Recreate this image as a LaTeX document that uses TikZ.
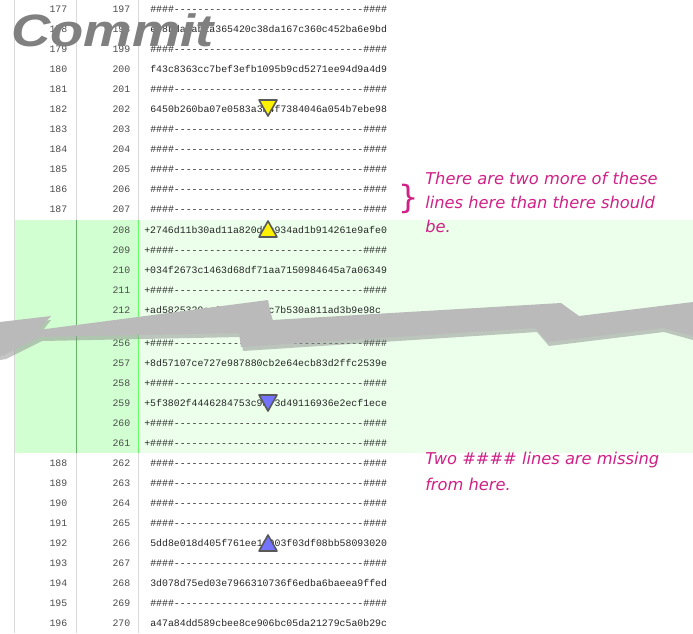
\documentclass[tikz,border=0pt]{standalone}
\usepackage{fontspec}
\setmonofont{Liberation Mono}
\newfontfamily\annfont{DejaVu Sans}
\newfontfamily\bigfont{Liberation Sans}
\begin{document}
\begin{tikzpicture}[x=0.75pt,y=-0.75pt,
  num/.style={anchor=east,font=\ttfamily\fontsize{7.4}{8}\selectfont,text=black!70},
  code/.style={anchor=west,font=\ttfamily\fontsize{7.4}{8}\selectfont,text=black!85,inner sep=0},
  ann/.style={anchor=west,font=\annfont\itshape\fontsize{12.2}{13}\selectfont,text=magenta!85!black,inner sep=0},
  tri/.style={draw=black!65,line width=1.2pt,line join=round}]
\useasboundingbox (0,0) rectangle (693,633);
\fill[white] (0,0) rectangle (693,633);
\fill[green!8] (14,220) rectangle (693,453);
\fill[green!18] (14,220) rectangle (138,453);
\draw[black!15] (14,0) -- (14,633) (76,0) -- (76,220) (76,453) -- (76,633) (138,0) -- (138,220) (138,453) -- (138,633);
\draw[green!50!black!60] (76,220) -- (76,453);
\draw[green!60] (138,220) -- (138,453);
% old rows
\foreach \a/\b/\t [count=\i from 0] in {
177/197/{\#\#\#\#--------------------------------\#\#\#\#},
178/198/{e58bda4ab2a365420c38da167c360c452ba6e9bd},
179/199/{\#\#\#\#--------------------------------\#\#\#\#},
180/200/{f43c8363cc7bef3efb1095b9cd5271ee94d9a4d9},
181/201/{\#\#\#\#--------------------------------\#\#\#\#},
182/202/{6450b260ba07e0583a3b4f7384046a054b7ebe98},
183/203/{\#\#\#\#--------------------------------\#\#\#\#},
184/204/{\#\#\#\#--------------------------------\#\#\#\#},
185/205/{\#\#\#\#--------------------------------\#\#\#\#},
186/206/{\#\#\#\#--------------------------------\#\#\#\#},
187/207/{\#\#\#\#--------------------------------\#\#\#\#}}{
  \node[num] (l\a) at (72,9+20*\i) {\a};
  \node[num] (r\b) at (135,9+20*\i) {\b};
  \node[code] (c\b) at (150,9+20*\i) {\t};
}
% added rows
\foreach \b/\y/\t in {
208/230/{+2746d11b30ad11a820d5c934ad1b914261e9afe0},
209/250/{+\#\#\#\#--------------------------------\#\#\#\#},
210/270/{+034f2673c1463d68df71aa7150984645a7a06349},
211/290/{+\#\#\#\#--------------------------------\#\#\#\#},
212/310/{+ad5825329ec9eee6410fc7b530a811ad3b9e98c},
256/343/{+\#\#\#\#--------------------------------\#\#\#\#},
257/363/{+8d57107ce727e987880cb2e64ecb83d2ffc2539e},
258/383/{+\#\#\#\#--------------------------------\#\#\#\#},
259/403/{+5f3802f4446284753c9a73d49116936e2ecf1ece},
260/423/{+\#\#\#\#--------------------------------\#\#\#\#},
261/443/{+\#\#\#\#--------------------------------\#\#\#\#}}{
  \node[num] (r\b) at (135,\y) {\b};
  \node[code] (c\b) at (144,\y) {\t};
}
\foreach \a/\b/\t [count=\i from 0] in {
188/262/{\#\#\#\#--------------------------------\#\#\#\#},
189/263/{\#\#\#\#--------------------------------\#\#\#\#},
190/264/{\#\#\#\#--------------------------------\#\#\#\#},
191/265/{\#\#\#\#--------------------------------\#\#\#\#},
192/266/{5dd8e018d405f761ee1a903f03df08bb58093020},
193/267/{\#\#\#\#--------------------------------\#\#\#\#},
194/268/{3d078d75ed03e7966310736f6edba6baeea9ffed},
195/269/{\#\#\#\#--------------------------------\#\#\#\#},
196/270/{a47a84dd589cbee8ce906bc05da21279c5a0b29c}}{
  \node[num] (l\a) at (72,463+20*\i) {\a};
  \node[num] (r\b) at (135,463+20*\i) {\b};
  \node[code] (c\b) at (150,463+20*\i) {\t};
}
% tear
\fill[black!45,opacity=0.5] (0,326)--(51,320)--(40,334)--(268,304)--(274,324)--(562,307)--(581,320)--(693,306)--(693,340)--(664,332)--(549,346)--(537,332)--(243,351)--(241,337)--(42,341)--(6,359)--(0,360)--cycle;
\fill[black!27] (0,322)--(51,316)--(38,330)--(268,300)--(272,320)--(561,303)--(579,316)--(693,302)--(693,336)--(663,328)--(548,342)--(535,328)--(241,347)--(239,333)--(40,337)--(4,355)--(0,356)--cycle;
% triangles
\draw[tri,fill=yellow] (259,100) -- (277,100) -- (268,116) -- cycle;
\draw[tri,fill=yellow] (259,237) -- (277,237) -- (268,221) -- cycle;
\draw[tri,fill=blue!55] (259,395) -- (277,395) -- (268,411) -- cycle;
\draw[tri,fill=blue!55] (259,551) -- (277,551) -- (268,535) -- cycle;
% title
\node[anchor=west,font=\bigfont\bfseries\itshape\fontsize{34}{36}\selectfont,text=black!50,inner sep=0,xscale=1.2] (title) at (11,30) {Commit};
% annotations
\node[font=\annfont\fontsize{24}{24}\selectfont,text=magenta!85!black,inner sep=0] (brace) at (409,199) {\}};
\node[ann] (a1) at (425,178) {There are two more of these};
\node[ann] (a2) at (425,202) {lines here than there should};
\node[ann] (a3) at (425,226) {be.};
\node[ann] (b1) at (425,460) {Two \#\#\#\# lines are missing};
\node[ann] (b2) at (425,484) {from here.};
\end{tikzpicture}
\end{document}
